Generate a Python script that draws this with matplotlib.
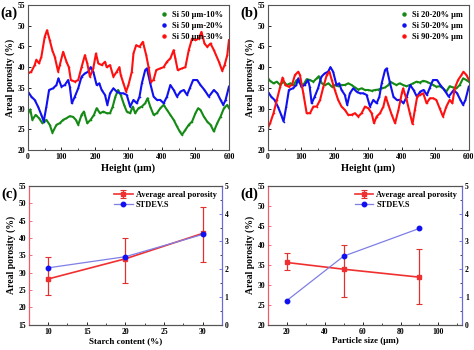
import numpy as np
import matplotlib
matplotlib.use('Agg')
import matplotlib.pyplot as plt
from matplotlib.lines import Line2D
from matplotlib.ticker import MultipleLocator

plt.rcParams['font.family'] = ['Liberation Serif', 'DejaVu Serif']
plt.rcParams['font.weight'] = 'bold'

# ---- panel (a): Si 50 um, different starch content ----
x_a30 = [0, 10, 20, 25, 33, 40, 50, 57, 65, 73, 80, 90, 95, 105, 115, 122, 128, 140, 150, 160,
         170, 177, 185, 195, 203, 210, 220, 230, 235, 245, 255, 265, 273, 277, 285, 293, 300, 310,
         315, 323, 333, 343, 353, 360, 367, 375, 383, 395, 405, 415, 425, 435, 440, 447, 460, 470,
         480, 490, 500, 510, 518, 527, 535, 545, 555, 570, 580, 587, 595, 600]
y_a30 = [38.5, 38.9, 40.5, 41.8, 40.9, 42.5, 47.3, 48.9, 46.5, 44.0, 42.5, 38.9, 40.5, 43.7, 41.3,
         40.0, 36.9, 36.5, 36.9, 40.0, 42.9, 40.9, 37.7, 39.7, 43.3, 40.9, 40.5, 41.3, 40.0, 40.5,
         37.7, 38.9, 40.0, 38.1, 36.1, 34.1, 35.7, 38.9, 43.3, 45.3, 44.9, 46.1, 42.9, 40.0, 36.5,
         36.9, 39.3, 39.7, 40.0, 41.3, 42.1, 44.1, 42.1, 39.3, 39.7, 40.0, 44.1, 46.9, 46.5, 46.9,
         48.5, 45.7, 44.9, 45.7, 44.1, 41.3, 39.1, 40.5, 42.9, 46.5]

x_s50 = [0, 10, 20, 30, 40, 47, 55, 63, 75, 85, 91, 100, 110, 120, 125, 131, 140, 150, 160, 170,
         180, 187, 195, 205, 213, 220, 230, 237, 245, 255, 265, 275, 285, 295, 305, 315, 325, 333,
         340, 350, 355, 365, 375, 385, 395, 405, 415, 425, 435, 445, 455, 465, 475, 483, 493, 505,
         515, 527, 540, 555, 565, 575, 583, 590, 600]
y_s50 = [34.1, 32.9, 32.1, 30.5, 28.5, 26.9, 30.5, 34.5, 34.9, 35.7, 37.3, 35.3, 35.7, 36.9, 35.3,
         31.3, 32.9, 34.9, 37.7, 38.5, 38.9, 40.0, 38.9, 35.7, 36.1, 34.5, 33.3, 30.9, 33.7, 34.9,
         34.1, 33.7, 33.7, 33.3, 30.5, 32.1, 31.3, 32.9, 36.1, 39.3, 39.7, 36.1, 32.9, 32.1, 32.1,
         31.3, 32.9, 35.7, 34.5, 32.9, 34.1, 34.5, 33.3, 34.9, 36.9, 36.9, 35.7, 34.5, 32.9, 34.5,
         33.7, 32.1, 30.9, 32.1, 35.3]

x_a10 = [0, 7, 13, 23, 33, 43, 55, 65, 73, 85, 95, 105, 115, 125, 135, 143, 150, 160, 167, 177,
         187, 197, 205, 215, 225, 235, 245, 253, 261, 269, 277, 287, 295, 305, 313, 320, 330, 340,
         350, 357, 365, 375, 385, 395, 405, 415, 425, 435, 445, 453, 460, 470, 480, 490, 500, 508,
         515, 525, 535, 545, 555, 565, 575, 585, 595, 600]
y_a10 = [28.9, 29.8, 27.3, 28.5, 27.7, 26.5, 27.3, 26.1, 24.2, 26.1, 26.5, 27.3, 27.7, 28.2, 28.0,
         27.3, 26.1, 28.5, 29.3, 26.5, 27.3, 28.5, 30.1, 28.9, 29.3, 28.9, 28.9, 30.5, 32.9, 34.5,
         33.3, 30.9, 29.3, 28.9, 30.5, 28.9, 30.1, 30.5, 31.3, 32.5, 30.5, 28.5, 28.9, 30.1, 30.9,
         29.7, 28.5, 27.3, 25.7, 24.5, 23.7, 24.9, 26.1, 26.9, 28.9, 30.1, 29.7, 28.1, 26.9, 26.1,
         24.5, 26.5, 28.1, 30.1, 30.9, 30.1]

# ---- panel (b): 20% starch, different particle size ----
x_s20 = [0, 7, 17, 27, 37, 47, 57, 67, 77, 86, 96, 106, 116, 126, 136, 146, 152, 161, 171, 181,
         191, 200, 210, 220, 230, 240, 250, 260, 270, 280, 290, 300, 310, 320, 330, 340, 350, 360,
         366, 374, 384, 394, 404, 414, 424, 434, 444, 454, 464, 474, 484, 494, 503, 513, 523, 533,
         543, 553, 563, 573, 583, 593, 600]
y_s20 = [37.3, 36.7, 36.1, 36.5, 35.7, 36.5, 35.7, 36.1, 35.7, 36.9, 36.1, 35.7, 37.1, 36.9, 36.5,
         37.3, 37.8, 36.1, 35.7, 36.1, 35.3, 35.7, 35.4, 35.7, 35.7, 36.1, 35.7, 35.1, 34.6, 34.9,
         34.5, 34.5, 34.3, 34.5, 34.6, 34.9, 35.1, 35.7, 36.5, 36.1, 35.7, 36.1, 35.7, 35.4, 35.7,
         36.1, 36.5, 36.3, 36.7, 36.5, 36.1, 35.7, 35.3, 35.4, 34.9, 34.1, 35.4, 35.1, 34.9, 35.7,
         37.3, 36.9, 36.5]

x_s90 = [0, 7, 17, 27, 37, 44, 52, 62, 72, 81, 91, 96, 106, 116, 126, 136, 146, 156, 166, 176,
         184, 191, 200, 210, 220, 230, 240, 250, 260, 270, 280, 290, 300, 310, 317, 325, 335, 345,
         352, 360, 370, 380, 390, 400, 404, 414, 424, 432, 439, 446, 454, 464, 474, 484, 494, 503,
         513, 523, 533, 543, 551, 558, 568, 578, 584, 593, 600]
y_s90 = [25.3, 26.5, 28.9, 32.1, 35.3, 37.5, 35.7, 35.3, 35.7, 38.1, 38.9, 38.1, 33.7, 28.9, 28.9,
         30.5, 30.5, 32.1, 35.3, 38.1, 38.9, 36.9, 34.5, 32.1, 30.5, 29.7, 28.5, 28.5, 28.9, 28.1,
         28.9, 30.5, 30.1, 28.9, 26.5, 28.1, 28.9, 30.5, 32.9, 30.9, 28.5, 26.5, 29.7, 33.7, 34.9,
         32.3, 28.9, 26.3, 29.7, 32.9, 33.3, 33.7, 31.3, 32.5, 32.5, 32.1, 30.1, 28.1, 30.5, 32.1,
         31.3, 34.9, 36.9, 38.1, 38.9, 38.1, 37.0]

# ---- panel (c): starch content ----
starch = [10, 20, 30]
avg_c = [28.2, 34.0, 41.3]
low_c = [23.5, 27.0, 33.2]
high_c = [34.5, 40.1, 49.0]
std_c = [2.05, 2.45, 3.25]

# ---- panel (d): particle size ----
size = [20, 50, 90]
avg_d = [35.7, 34.0, 32.0]
low_d = [33.9, 27.0, 25.3]
high_d = [38.0, 40.0, 39.0]
std_d = [0.87, 2.47, 3.47]

RED = '#ff1010'
BLUE = '#1010f0'
GREEN = '#148a14'

fig = plt.figure(figsize=(4.74, 3.5), dpi=100)


def style_ax(ax):
    ax.tick_params(direction='in', labelsize=5.5, length=2.5, width=0.6, pad=2)
    ax.tick_params(which='minor', direction='in', length=1.5, width=0.5)
    for s in ax.spines.values():
        s.set_linewidth(0.8)
        s.set_color('#555555')
    for lab in ax.get_xticklabels() + ax.get_yticklabels():
        lab.set_fontweight('bold')


def profile_panel(rect, series, labels, tag):
    ax = fig.add_axes(rect)
    for (x, y, c) in series:
        ax.plot(x, y, color=c, lw=1.5, marker='o', ms=1.2, mew=0)
    ax.set_xlim(0, 600)
    ax.set_ylim(20, 55)
    ax.xaxis.set_major_locator(MultipleLocator(100))
    ax.xaxis.set_minor_locator(MultipleLocator(50))
    ax.yaxis.set_major_locator(MultipleLocator(5))
    ax.set_xlabel('Height (\u03bcm)', fontsize=7.5, fontweight='bold', labelpad=2)
    ax.set_ylabel('Areal porosity (%)', fontsize=7, fontweight='bold', labelpad=2)
    style_ax(ax)
    handles = [Line2D([], [], ls='none', marker='o', ms=2.2, color=c) for (_, _, c) in series]
    ax.legend(handles, labels, loc='upper right', fontsize=6, frameon=False,
              handlelength=0.8, handletextpad=0.6, labelspacing=0.35, borderaxespad=0.3)
    fig.text(rect[0] - 0.058, rect[1] + rect[3] - 0.035, tag, fontsize=10.5, fontweight='bold')
    return ax


def summary_panel(rect, x, avg, low, high, std, xlim, xmaj, xmin, ylim, xlabel, tag):
    ax = fig.add_axes(rect)
    yerr = [np.array(avg) - np.array(low), np.array(high) - np.array(avg)]
    l1 = ax.errorbar(x, avg, yerr=yerr, color='#f03030', ecolor='#e03030', lw=1.2, elinewidth=0.9,
                     capsize=2.5, capthick=0.8, marker='s', ms=3)
    ax.set_xlim(*xlim)
    ax.set_ylim(*ylim)
    ax.xaxis.set_major_locator(MultipleLocator(xmaj))
    ax.xaxis.set_minor_locator(MultipleLocator(xmin))
    ax.yaxis.set_major_locator(MultipleLocator(5))
    ax.set_xlabel(xlabel, fontsize=6.5, fontweight='bold', labelpad=1)
    ax.set_ylabel('Areal porosity (%)', fontsize=7, fontweight='bold', labelpad=2)
    style_ax(ax)
    ax2 = ax.twinx()
    l2, = ax2.plot(x, std, color='#7f7fe6', lw=0.9, marker='o', ms=3.2, mfc=BLUE, mec=BLUE)
    ax2.set_ylim(0, 5)
    ax2.yaxis.set_major_locator(MultipleLocator(1))
    ax2.yaxis.set_minor_locator(MultipleLocator(0.5))
    style_ax(ax2)
    ax2.spines['left'].set_color('#ee5a6a')
    ax2.spines['right'].set_color('#6a6ae0')
    ax.spines['left'].set_color('#ee5a6a')
    ax.tick_params(axis='y', colors='#ee5a6a', labelcolor='black')
    ax2.tick_params(axis='y', colors='#6a6ae0', labelcolor='black')
    ax.legend([l1, l2], ['Average areal porosity', 'STDEV.S'], loc='upper right', fontsize=6,
              frameon=False, handlelength=2.2, handletextpad=0.4, labelspacing=0.3,
              borderaxespad=0.2)
    fig.text(rect[0] - 0.058, rect[1] + rect[3] - 0.035, tag, fontsize=10.5, fontweight='bold')


profile_panel([0.059, 0.571, 0.424, 0.415],
              [(x_a10, y_a10, GREEN), (x_s50, y_s50, BLUE), (x_a30, y_a30, RED)],
              ['Si 50 \u03bcm-10%', 'Si 50 \u03bcm-20%', 'Si 50 \u03bcm-30%'], '(a)')
profile_panel([0.565, 0.571, 0.424, 0.415],
              [(x_s20, y_s20, GREEN), (x_s50, y_s50, BLUE), (x_s90, y_s90, RED)],
              ['Si 20-20% \u03bcm', 'Si 50-20% \u03bcm', 'Si 90-20% \u03bcm'], '(b)')

summary_panel([0.061, 0.072, 0.407, 0.397], starch, avg_c, low_c, high_c, std_c,
              (7.5, 32.5), 5, 2.5, (15, 55), 'Starch content (%)', '(c)')
summary_panel([0.565, 0.072, 0.41, 0.397], size, avg_d, low_d, high_d, std_d,
              (10, 112.5), 20, 10, (20, 55), 'Particle size (\u03bcm)', '(d)')

fig.savefig('out.png', dpi=100)
